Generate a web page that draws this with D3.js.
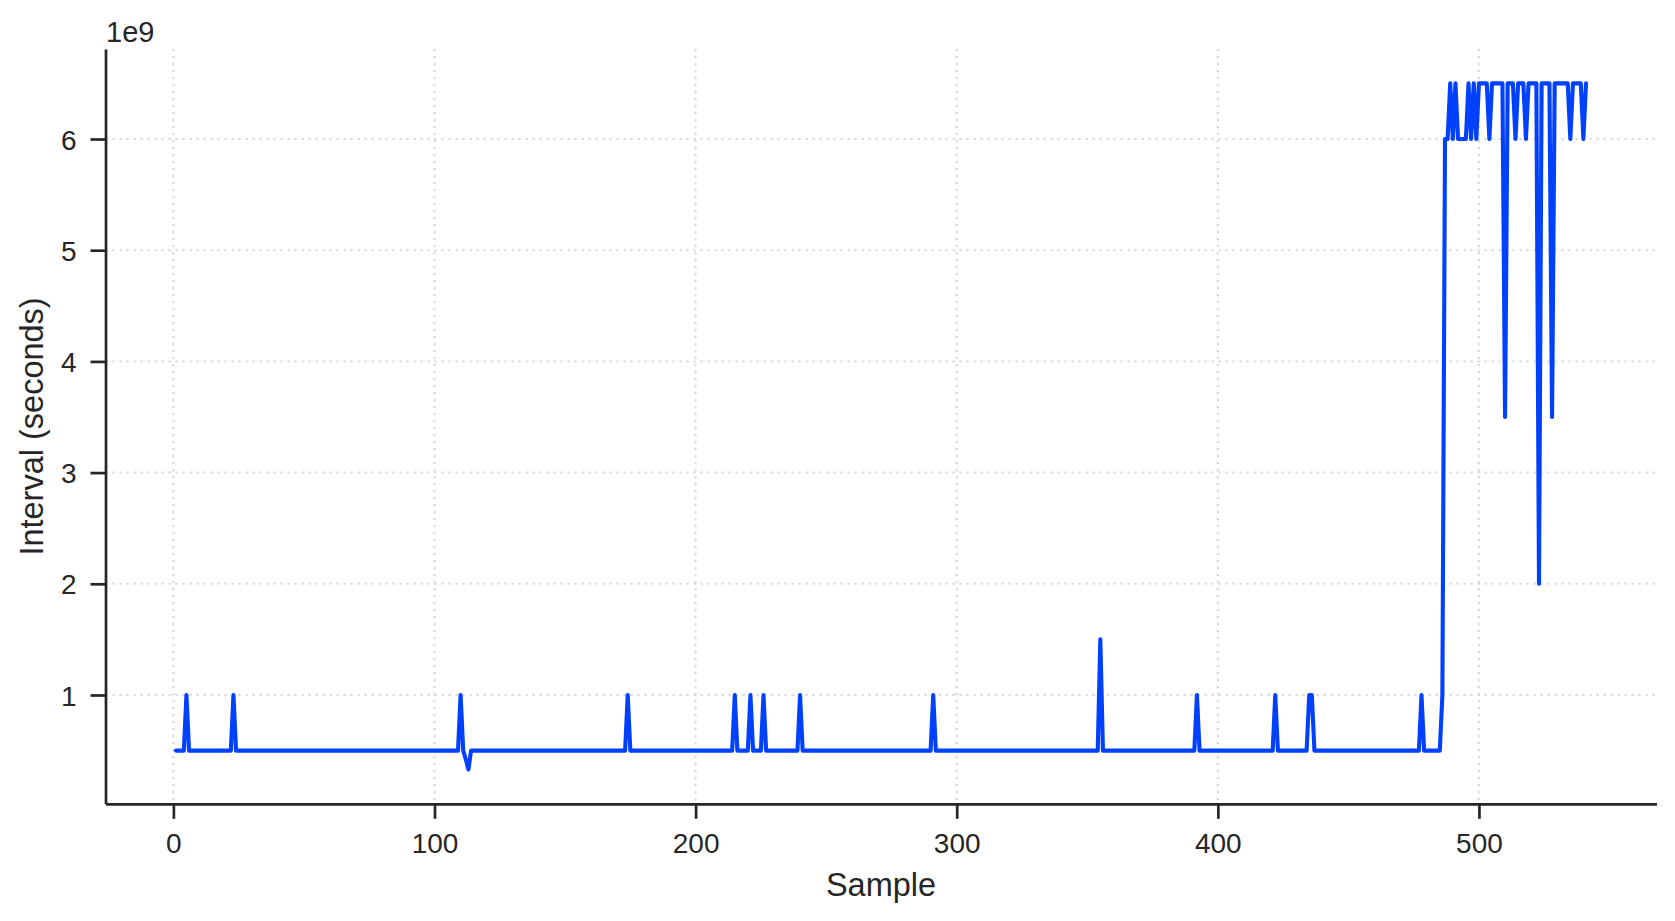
<!DOCTYPE html>
<html>
<head>
<meta charset="utf-8">
<script src="https://cdn.jsdelivr.net/npm/d3@7"></script>
<style>
  html, body { margin: 0; padding: 0; background: #ffffff; }
  svg { display: block; }
  text { font-family: "Liberation Sans", Arial, Helvetica, sans-serif; fill: #262626; }
</style>
</head>
<body>
<svg id="chart" width="1675" height="921"></svg>
<script>
// ---------------- data ----------------
const firstSample = 1;
const lastSample = 541;
const baselineValue = 0.5e9;               // resting interval
// isolated samples that differ from the baseline (samples 1..485)
const eventSamples = [5, 23, 110, 112, 113, 174, 215, 221, 226, 240, 291, 355, 392, 422, 435, 436, 478];
const eventValues  = [1.0e9, 1.0e9, 1.0e9, 0.42e9, 0.33e9, 1.0e9, 1.0e9, 1.0e9, 1.0e9, 1.0e9, 1.0e9, 1.5e9, 1.0e9, 1.0e9, 1.0e9, 1.0e9, 1.0e9];
// samples 486..541, in units of 1e9 s
const tailStart = 486;
const tailValues = [
  1.0, 6.0, 6.0, 6.5, 6.0, 6.5, 6.0, 6.0, 6.0, 6.0,
  6.5, 6.0, 6.5, 6.0, 6.5, 6.5, 6.5, 6.5, 6.0, 6.5,
  6.5, 6.5, 6.5, 6.5, 3.5, 6.5, 6.5, 6.5, 6.0, 6.5,
  6.5, 6.5, 6.0, 6.5, 6.5, 6.5, 6.5, 2.0, 6.5, 6.5,
  6.5, 6.5, 3.5, 6.5, 6.5, 6.5, 6.5, 6.5, 6.5, 6.0,
  6.5, 6.5, 6.5, 6.5, 6.0, 6.5
];
const xTicks = [0, 100, 200, 300, 400, 500];
const yTicks = [1e9, 2e9, 3e9, 4e9, 5e9, 6e9];
const xLabel = "Sample";
const yLabel = "Interval (seconds)";
const offsetLabel = "1e9";

// build the series table
const series = [];
for (let s = firstSample; s <= lastSample; s++) {
  let v = baselineValue;
  const k = eventSamples.indexOf(s);
  if (k >= 0) v = eventValues[k];
  if (s >= tailStart) v = tailValues[s - tailStart] * 1e9;
  series.push({ sample: s, value: v });
}

// ---------------- layout ----------------
const svg = d3.select("#chart");
const plotL = 105.5, plotR = 1656.5, plotT = 49.1, plotB = 803.8;

const xExt = d3.extent(series, d => d.sample);
const xPad = (xExt[1] - xExt[0]) * 0.05;
const x = d3.scaleLinear().domain([xExt[0] - xPad, xExt[1] + xPad]).range([plotL, plotR]);

const yExt = d3.extent(series, d => d.value);
const yPad = (yExt[1] - yExt[0]) * 0.05;
const y = d3.scaleLinear().domain([yExt[0] - yPad, yExt[1] + yPad]).range([plotB, plotT]);

// grid
const grid = svg.append("g").attr("class", "grid");
grid.selectAll("line.gx").data(xTicks).enter().append("line")
  .attr("x1", d => x(d)).attr("x2", d => x(d)).attr("y1", plotT).attr("y2", plotB)
  .attr("stroke", "#d6d6d6").attr("stroke-width", 2).attr("stroke-dasharray", "2.2,4.8");
grid.selectAll("line.gy").data(yTicks).enter().append("line")
  .attr("y1", d => y(d)).attr("y2", d => y(d)).attr("x1", plotL).attr("x2", plotR)
  .attr("stroke", "#d6d6d6").attr("stroke-width", 2).attr("stroke-dasharray", "2.2,4.8");

// line
const line = d3.line().x(d => x(d.sample)).y(d => y(d.value));
svg.append("path").datum(series)
  .attr("d", line).attr("fill", "none")
  .attr("stroke", "#0040ff").attr("stroke-width", 4.1)
  .attr("stroke-linejoin", "round").attr("stroke-linecap", "round");

// axes
const axisColor = "#262626";
const xAxis = svg.append("g").attr("transform", `translate(0,${plotB})`)
  .call(d3.axisBottom(x).tickValues(xTicks).tickFormat(d3.format("d")).tickSize(15).tickSizeOuter(0).tickPadding(14));
const yAxis = svg.append("g").attr("transform", `translate(${plotL},0)`)
  .call(d3.axisLeft(y).tickValues(yTicks).tickFormat(d => d3.format("d")(d / 1e9)).tickSize(15).tickSizeOuter(0).tickPadding(14));

[xAxis, yAxis].forEach(g => {
  g.select(".domain").attr("stroke", axisColor).attr("stroke-width", 2.7);
  g.selectAll(".tick line").attr("stroke", axisColor).attr("stroke-width", 2.7);
  g.selectAll(".tick text").attr("fill", "#262626").style("font-size", "28px")
    .style("font-family", '"Liberation Sans", Arial, sans-serif');
});
yAxis.selectAll(".tick text").attr("dy", "0.36em");

// labels
svg.append("text").attr("x", (plotL + plotR) / 2).attr("y", 896)
  .attr("text-anchor", "middle").style("font-size", "32.5px").text(xLabel);
svg.append("text").attr("transform", `translate(43,${(plotT + plotB) / 2}) rotate(-90)`)
  .attr("text-anchor", "middle").style("font-size", "32.5px").text(yLabel);
svg.append("text").attr("x", 106).attr("y", 42)
  .style("font-size", "29px").text(offsetLabel);
</script>
</body>
</html>
